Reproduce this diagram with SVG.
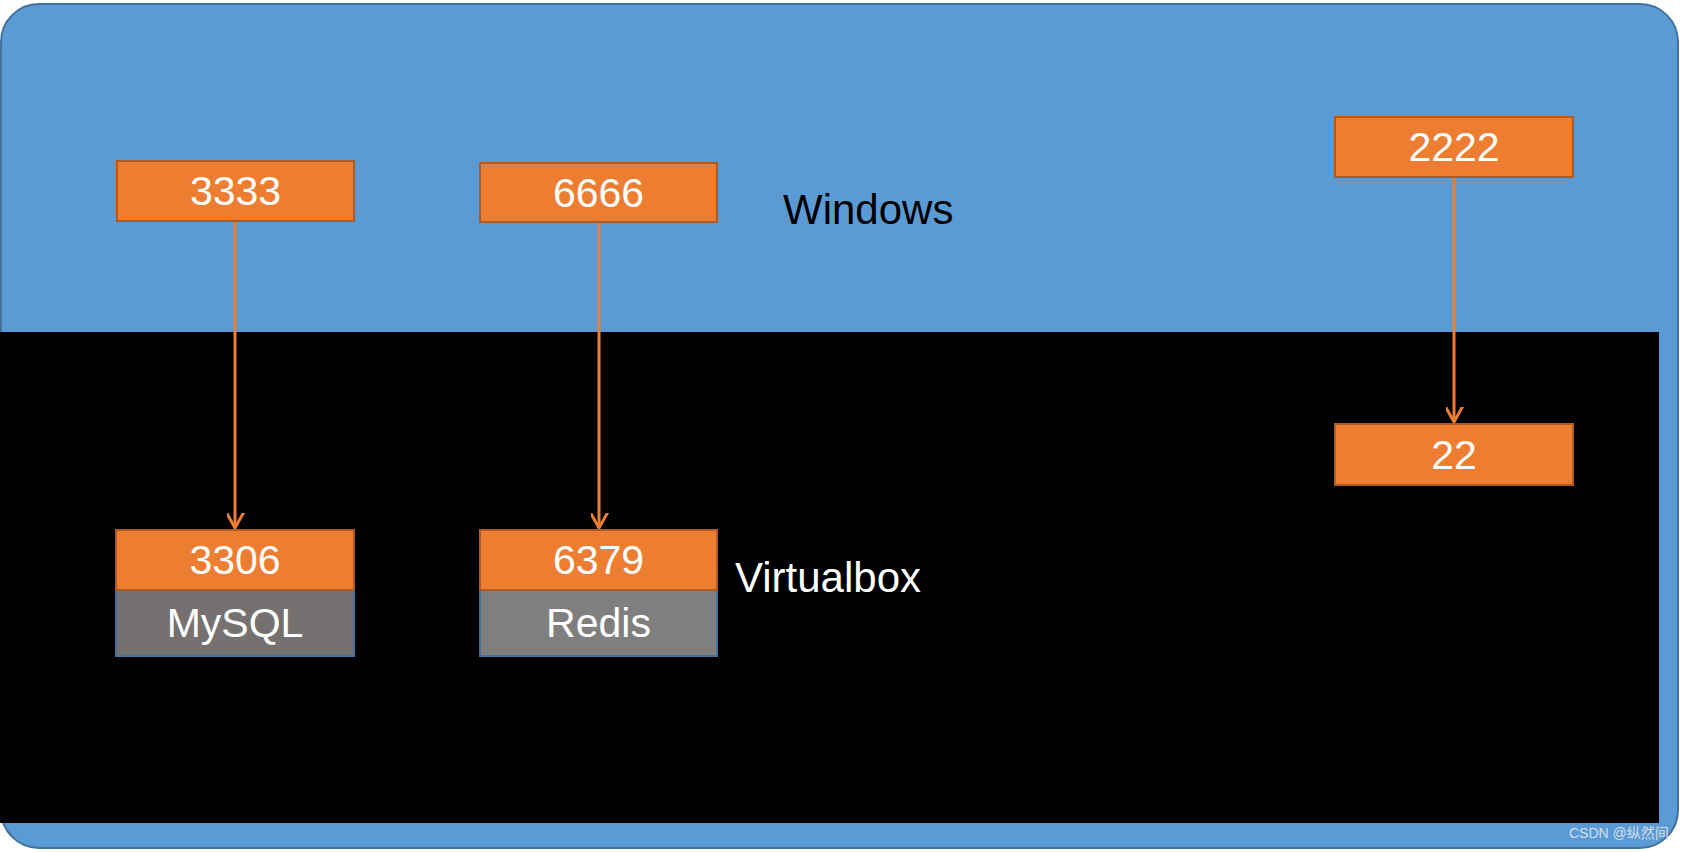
<svg xmlns="http://www.w3.org/2000/svg" width="1684" height="852" viewBox="0 0 1684 852">
<defs>
<style>
.port{fill:#ED7D31;stroke:#AE5A21;stroke-width:2}
.svc{stroke:#41719C;stroke-width:2}
.num{font-family:"Liberation Sans",Arial,sans-serif;font-size:41px;fill:#FFFFFF;text-anchor:middle}
.lbl{font-family:"Liberation Sans",Arial,sans-serif;font-size:42px}
.conn{stroke:#ED7D31;stroke-width:3;fill:none}
</style>
<marker id="arr" markerUnits="userSpaceOnUse" markerWidth="30" markerHeight="30" viewBox="-15 -22 30 30" refX="0" refY="0" orient="auto-start-reverse">
<path d="M-10,-18 L0,0 L10,-18" fill="none" stroke="#ED7D31" stroke-width="3" transform="rotate(-90)"/>
</marker>
</defs>
<g id="windows">
<rect x="1" y="4" width="1677" height="844" rx="38" ry="38" fill="#5B9BD5" stroke="#41719C" stroke-width="2"/>
<text class="lbl" x="783" y="224" fill="#000000">Windows</text>
</g>
<g id="virtualbox">
<rect x="0" y="332" width="1659" height="491" fill="#000000"/>
<text class="lbl" x="735" y="592" fill="#FFFFFF">Virtualbox</text>
</g>
<g id="connectors">
<line class="conn" x1="235" y1="222" x2="235" y2="528" marker-end="url(#arr)"/>
<line class="conn" x1="599" y1="223" x2="599" y2="528" marker-end="url(#arr)"/>
<line class="conn" x1="1454" y1="178" x2="1454" y2="422" marker-end="url(#arr)"/>
</g>
<g id="p3333">
<rect class="port" x="117" y="161" width="237" height="60"/>
<text class="num" x="235.5" y="205">3333</text>
</g>
<g id="p6666">
<rect class="port" x="480" y="163" width="237" height="59"/>
<text class="num" x="598.5" y="207">6666</text>
</g>
<g id="p2222">
<rect class="port" x="1335" y="117" width="238" height="60"/>
<text class="num" x="1454" y="161">2222</text>
</g>
<g id="p22">
<rect class="port" x="1335" y="424" width="238" height="61"/>
<text class="num" x="1454" y="469">22</text>
</g>
<g id="mysql">
<rect class="svc" x="116" y="590" width="238" height="66" fill="#767171"/>
<text class="num" x="235" y="637">MySQL</text>
</g>
<g id="p3306">
<rect class="port" x="116" y="530" width="238" height="60"/>
<text class="num" x="235" y="574">3306</text>
</g>
<g id="redis">
<rect class="svc" x="480" y="590" width="237" height="66" fill="#7F7F7F"/>
<text class="num" x="598.5" y="637">Redis</text>
</g>
<g id="p6379">
<rect class="port" x="480" y="530" width="237" height="60"/>
<text class="num" x="598.5" y="574">6379</text>
</g>
<text x="1569" y="838" font-family="'Liberation Sans','Noto Sans CJK SC',sans-serif" font-size="14" fill="#D6DEE6">CSDN @纵然间</text>
</svg>
